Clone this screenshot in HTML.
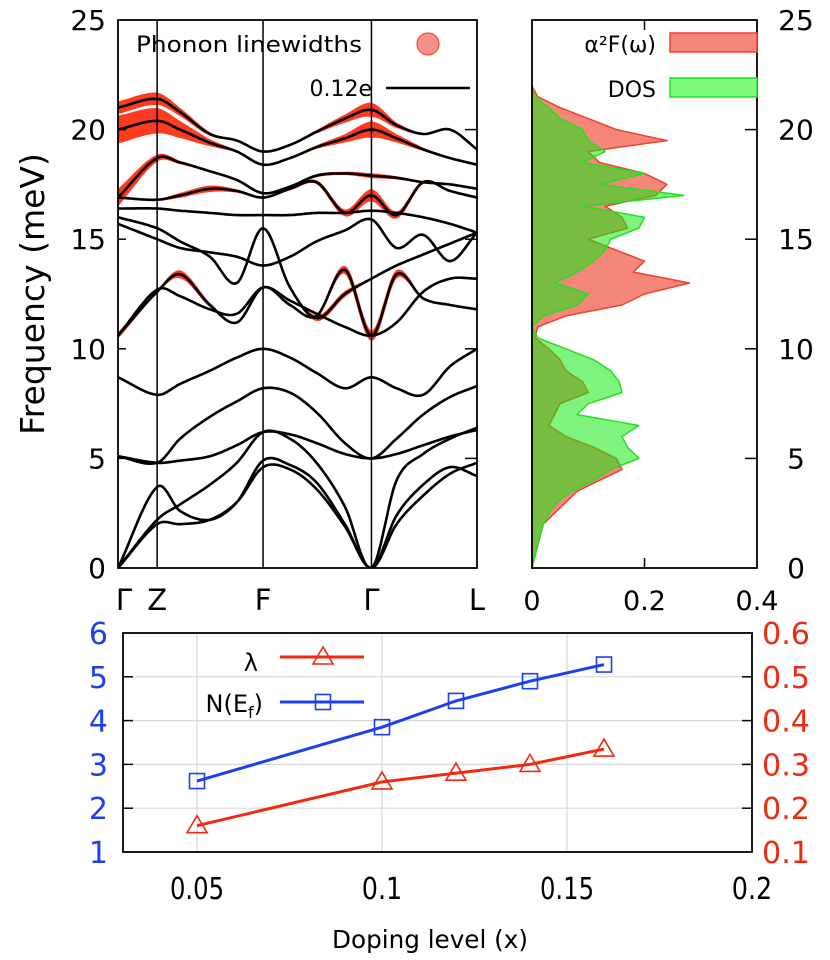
<!DOCTYPE html>
<html><head><meta charset="utf-8">
<style>
html,body{margin:0;padding:0;background:#fff;}
svg{display:block;font-family:"DejaVu Sans","Liberation Sans",sans-serif;}
</style></head>
<body>
<svg id="fig" width="830" height="960" viewBox="0 0 830 960" xmlns="http://www.w3.org/2000/svg">
  <g id="bandsG"></g>
  <g id="dosG"></g>
  <g id="dopG"></g>
</svg>
<script>
// ---------- data: phonon dispersion ----------
const kLabels = ["Γ","Z","F","Γ","L"];
const kLabelPos = [0, 0.109, 0.404, 0.706, 1];
const kpoints = [0,0.109,0.173,0.256,0.331,0.404,0.479,0.553,0.632,0.706,0.776,0.850,0.925,1];
const b1 = [0,2.0,2.0,2.2,3.0,4.6,4.5,3.6,1.9,0,2.0,3.3,4.3,4.8];
const b2 = [0,3.7,2.6,2.2,3.0,4.9,4.7,3.9,2.0,0,2.4,3.8,4.6,4.2];
const b3 = [0,2.2,2.9,3.8,4.8,6.2,5.9,4.8,2.8,0,4.0,5.2,5.9,6.4];
const b4 = [5.1,4.8,4.9,5.1,5.6,6.2,6.1,5.7,5.2,5.0,5.2,5.6,6.0,6.3];
const b5 = [5.1,4.8,5.9,6.9,7.6,8.2,8.0,7.1,5.7,5.0,5.9,7.0,7.8,8.3];
const b6 = [8.7,7.9,8.4,9.0,9.6,10.0,9.6,8.9,8.2,8.7,8.2,7.9,9.2,10.0];
const b7 = [10.6,12.7,12.4,11.8,11.6,12.8,12.2,11.6,11.0,10.6,11.2,12.6,13.2,13.2];
const b8 = [10.6,12.6,13.4,12.0,11.2,12.8,12.0,11.5,13.6,10.6,13.4,12.3,12.0,11.8];
const b9 = [15.7,15.0,14.6,14.4,14.2,13.8,14.2,14.9,15.4,15.9,14.6,15.2,14.0,15.3];
const b10 = [16.0,15.5,14.9,14.2,13.0,15.5,12.8,11.4,12.5,13.2,13.8,14.3,14.8,15.3];
const b11 = [16.4,16.4,16.3,16.2,16.1,16.1,16.1,16.2,16.2,16.3,16.2,16.0,15.7,15.3];
const b12 = [16.9,16.8,17.0,17.3,17.2,16.9,17.3,17.6,16.2,17.0,16.1,17.6,17.2,16.9];
const b13 = [16.9,18.7,18.5,18.1,17.7,17.1,17.4,17.9,18.0,17.9,17.8,17.6,17.5,17.3];
const b14 = [20.0,20.4,20.0,19.4,19.0,18.4,18.7,19.2,19.6,20.0,19.6,19.1,18.7,18.4];
const b15 = [21.0,21.4,20.8,19.8,19.5,19.0,19.3,19.9,20.5,20.9,20.2,19.8,20.0,19.1];
const zero = [0,0,0,0,0,0,0,0,0,0,0,0,0,0];
const w8  = [0.1,0,0.15,0.05,0,0,0,0,0.15,0.2,0.15,0,0,0];
const w10 = [0,0,0,0,0,0,0,0.1,0.1,0,0,0,0,0];
const w12 = [0,0,0.08,0.12,0.04,0,0.04,0.05,0.12,0.25,0.12,0.04,0,0];
const w13 = [0.35,0.12,0.04,0,0,0,0,0.04,0.04,0.08,0.04,0,0,0];
const w14 = [0.6,0.55,0.35,0.12,0,0,0,0.04,0.15,0.35,0.15,0.04,0,0];
const w15 = [0.25,0.25,0.15,0.04,0,0,0,0.04,0.15,0.3,0.08,0,0,0];
const freqTicks = [0,5,10,15,20,25];
// ---------- data: DOS ----------
const dosFreq = [0,0.5,1,1.5,2,2.5,3,3.5,4,4.5,5,5.5,6,6.5,7,7.5,8,8.5,9,9.5,10,10.5,11,11.5,12,12.5,13,13.5,14,14.5,15,15.5,16,16.5,17,17.5,18,18.5,19,19.5,20,20.5,21,21.5,22];
const dosVals = [0,0.005,0.01,0.015,0.02,0.03,0.045,0.07,0.11,0.14,0.19,0.17,0.16,0.19,0.08,0.1,0.16,0.155,0.14,0.11,0.06,0.01,0,0.02,0.08,0.1,0.04,0.08,0.11,0.13,0.14,0.19,0.2,0.09,0.27,0.12,0.2,0.09,0.13,0.1,0.09,0.05,0.03,0.005,0];
const a2fVals = [0,0.005,0.01,0.015,0.02,0.04,0.06,0.08,0.12,0.16,0.15,0.11,0.06,0.03,0.04,0.05,0.1,0.09,0.06,0.05,0.03,0.005,0.01,0.06,0.16,0.2,0.28,0.18,0.2,0.15,0.1,0.17,0.16,0.13,0.22,0.24,0.2,0.12,0.1,0.24,0.15,0.1,0.05,0.01,0];
const dosTicks = ["0","0.2","0.4"];
// ---------- data: doping ----------
const doping = [0.05,0.10,0.12,0.14,0.16];
const nEf = [2.62,3.85,4.45,4.9,5.28];
const lambda = [0.16,0.26,0.28,0.30,0.335];
const dopTicks = ["0.05","0.1","0.15","0.2"];
const nTicks = ["1","2","3","4","5","6"];
const lTicks = ["0.1","0.2","0.3","0.4","0.5","0.6"];

const NS="http://www.w3.org/2000/svg";
function mk(tag, attrs, parent, text){
  const e=document.createElementNS(NS,tag);
  for(const k in attrs) e.setAttribute(k,attrs[k]);
  if(text!==undefined) e.textContent=text;
  parent.appendChild(e); return e;
}
// ---------- band panel ----------
const BL=118,BR=477,BT=20,BB=568;
const kx = k => BL + k*(BR-BL);
const fy = f => BB - f*(BB-BT)/25;
const bandsG=document.getElementById('bandsG');
function spline(xs, ys, ws){
  const out=[];
  const n=xs.length;
  for(let i=0;i<n-1;i++){
    const x0=xs[Math.max(i-1,0)],x1=xs[i],x2=xs[i+1],x3=xs[Math.min(i+2,n-1)];
    const y0=ys[Math.max(i-1,0)],y1=ys[i],y2=ys[i+1],y3=ys[Math.min(i+2,n-1)];
    const m1=(y2-y0)/((x2-x0)||1)*(x2-x1), m2=(y3-y1)/((x3-x1)||1)*(x2-x1);
    for(let s=0;s<16;s++){
      const t=s/16,t2=t*t,t3=t2*t;
      const y=(2*t3-3*t2+1)*y1+(t3-2*t2+t)*m1+(-2*t3+3*t2)*y2+(t3-t2)*m2;
      out.push([x1+(x2-x1)*t, y, ws[i]+(ws[i+1]-ws[i])*t]);
    }
  }
  out.push([xs[n-1],ys[n-1],ws[n-1]]);
  return out;
}
const bands=[[b1,zero],[b2,zero],[b3,zero],[b4,zero],[b5,zero],[b6,zero],[b7,zero],[b8,w8],[b9,zero],[b10,w10],[b11,zero],[b12,w12],[b13,w13],[b14,w14],[b15,w15]];
const clip=mk('clipPath',{id:'bclip'},bandsG);
mk('rect',{x:BL,y:BT,width:BR-BL,height:BB-BT},clip);
const redLayer=mk('g',{'clip-path':'url(#bclip)'},bandsG);


const lineLayer=mk('g',{'clip-path':'url(#bclip)'},bandsG);


bands.forEach((bw,bi)=>{
  const pts=spline(kpoints,bw[0],bw[1]);
  let up=[],dn=[];
  pts.forEach(p=>{up.push(kx(p[0]).toFixed(1)+','+fy(p[1]+p[2]).toFixed(1));dn.unshift(kx(p[0]).toFixed(1)+','+fy(p[1]-p[2]).toFixed(1));});
  if(bw[1].some(v=>v>0)){
    const poly=mk('polygon',{points:up.concat(dn).join(' '),fill:'#ff3b1f',stroke:'#ff3b1f','stroke-width':1.5,'stroke-linejoin':'round'},redLayer);
    
    
  }
  const d='M'+pts.map(p=>kx(p[0]).toFixed(1)+','+fy(p[1]).toFixed(1)).join(' L');
  const path=mk('path',{d:d,fill:'none',stroke:'#000','stroke-width':2.6,'stroke-linejoin':'round'},lineLayer);
  
  
});
kLabelPos.forEach((k,i)=>{
  if(i>0&&i<kLabelPos.length-1){
    const l=mk('line',{x1:kx(k),x2:kx(k),y1:BT,y2:BB,stroke:'#000','stroke-width':1.5},bandsG);
    
    
  }
  const t=mk('text',{x:kx(k)+(i===0?6:0),y:610,'font-size':29,'text-anchor':'middle'},bandsG,kLabels[i]);
  
  
});
const bfr=mk('rect',{x:BL,y:BT,width:BR-BL,height:BB-BT,fill:'none',stroke:'#000','stroke-width':1.8},bandsG);


freqTicks.forEach(f=>{
  const t=mk('text',{x:106,y:fy(f)+10,'font-size':28,'text-anchor':'end'},bandsG,String(f));
  
  
  if(f>0&&f<25){
    mk('line',{x1:BL,x2:BL+8,y1:fy(f),y2:fy(f),stroke:'#000','stroke-width':1.5},bandsG);
    mk('line',{x1:BR-12,x2:BR,y1:fy(f),y2:fy(f),stroke:'#000','stroke-width':1.5},bandsG);
  }
});
const yt=mk('text',{x:0,y:0,'font-size':33,'text-anchor':'middle',transform:'translate(44,294) rotate(-90)'},bandsG,'Frequency (meV)');


const lg1=mk('text',{x:362,y:52,'font-size':22,'text-anchor':'end',textLength:226,lengthAdjust:'spacingAndGlyphs'},bandsG,'Phonon linewidths');


const lc=mk('circle',{cx:428,cy:44,r:11,fill:'#f99088',stroke:'#f0503c','stroke-width':1.2},bandsG);


const lg2=mk('text',{x:372,y:96,'font-size':22,'text-anchor':'end'},bandsG,'0.12e');


const ll=mk('line',{x1:386,x2:470,y1:88,y2:88,stroke:'#000','stroke-width':2.6},bandsG);



// ---------- DOS panel ----------
const DL=532,DR=757;
const dx = v => DL + v*(DR-DL)/0.4;
const dosG=document.getElementById('dosG');
function areaPath(vals){
  let d='M'+dx(0)+','+fy(dosFreq[0]);
  dosFreq.forEach((f,i)=>{d+=' L'+dx(vals[i]).toFixed(1)+','+fy(f).toFixed(1);});
  d+=' L'+dx(0)+','+fy(dosFreq[dosFreq.length-1])+' Z';
  return d;
}
const ra=mk('path',{d:areaPath(a2fVals),fill:'#f4867a',stroke:'#f2402a','stroke-width':1.5,'stroke-linejoin':'round'},dosG);


const ga=mk('path',{d:areaPath(dosVals),fill:'rgba(20,235,20,0.55)',stroke:'#22e022','stroke-width':1.5,'stroke-linejoin':'round'},dosG);


const dfr=mk('rect',{x:DL,y:BT,width:DR-DL,height:BB-BT,fill:'none',stroke:'#000','stroke-width':1.8},dosG);


dosTicks.forEach((s,i)=>{
  const x=dx(i*0.2);
  const t=mk('text',{x:x,y:610,'font-size':27,'text-anchor':'middle'},dosG,s);
  
  
  if(i===1){mk('line',{x1:x,x2:x,y1:BB,y2:BB-10,stroke:'#000','stroke-width':1.5},dosG);mk('line',{x1:x,x2:x,y1:BT,y2:BT+10,stroke:'#000','stroke-width':1.5},dosG);}
});
freqTicks.forEach(f=>{
  const t=mk('text',{x:796,y:fy(f)+10,'font-size':28,'text-anchor':'middle'},dosG,String(f));
  
  
  if(f>0&&f<25) mk('line',{x1:DR-12,x2:DR,y1:fy(f),y2:fy(f),stroke:'#000','stroke-width':1.5},dosG);
});
const la=mk('text',{x:656,y:52,'font-size':22,'text-anchor':'end'},dosG,'α²F(ω)');


const lr=mk('rect',{x:670,y:33,width:87,height:19,fill:'#f4867a',stroke:'#f2402a','stroke-width':1.5},dosG);


const ld=mk('text',{x:656,y:97,'font-size':22,'text-anchor':'end'},dosG,'DOS');


const lgr=mk('rect',{x:670,y:78,width:87,height:19,fill:'#7dfc7d',stroke:'#22e022','stroke-width':1.5},dosG);



// ---------- doping panel ----------
const PL=123,PR=752,PT=633,PB=852;
const px = v => PL + (v-0.03)*(PR-PL)/0.17;
const pyN = v => PB - (v-1)*(PB-PT)/5;
const pyL = v => PB - (v-0.1)*(PB-PT)/0.5;
const dopG=document.getElementById('dopG');
dopTicks.forEach(s=>{
  const v=parseFloat(s);
  if(v<0.2){const g=mk('line',{x1:px(v),x2:px(v),y1:PT,y2:PB,stroke:'#d8d8d8','stroke-width':1.2},dopG);
    }
  const t=mk('text',{x:px(v),y:899,'font-size':30,'text-anchor':'middle',textLength:s.length*13.5,lengthAdjust:'spacingAndGlyphs'},dopG,s);
  
  
});
nTicks.forEach((s,i)=>{
  const v=parseFloat(s), y=pyN(v);
  if(v>1&&v<6){
    const g=mk('line',{x1:PL,x2:PR,y1:y,y2:y,stroke:'#d8d8d8','stroke-width':1.2},dopG);
    
    mk('line',{x1:PL,x2:PL+10,y1:y,y2:y,stroke:'#000','stroke-width':1.5},dopG);
    mk('line',{x1:PR-10,x2:PR,y1:y,y2:y,stroke:'#000','stroke-width':1.5},dopG);
  }
  const t=mk('text',{x:108,y:y+11,'font-size':30,'text-anchor':'end',fill:'#1d3ff0'},dopG,s);
  
  
});
lTicks.forEach(s=>{
  const v=parseFloat(s);
  const t=mk('text',{x:762,y:pyL(v)+11,'font-size':30,'text-anchor':'start',fill:'#f02a10',textLength:48,lengthAdjust:'spacingAndGlyphs'},dopG,s);
  
  
});
const pfr=mk('rect',{x:PL,y:PT,width:PR-PL,height:PB-PT,fill:'none',stroke:'#000','stroke-width':1.8},dopG);


const nl=mk('polyline',{points:doping.map((d,i)=>px(d)+','+pyN(nEf[i])).join(' '),fill:'none',stroke:'#1d3ff0','stroke-width':3},dopG);


const rl=mk('polyline',{points:doping.map((d,i)=>px(d)+','+pyL(lambda[i])).join(' '),fill:'none',stroke:'#f02a10','stroke-width':3},dopG);


function square(x,y){return mk('rect',{x:x-7.5,y:y-7.5,width:15,height:15,fill:'none',stroke:'#1d3ff0','stroke-width':1.6},dopG);}
function tri(x,y){return mk('polygon',{points:(x)+','+(y-10)+' '+(x-10)+','+(y+7)+' '+(x+10)+','+(y+7),fill:'none',stroke:'#f02a10','stroke-width':1.6},dopG);}
doping.forEach((d,i)=>{
  const s=square(px(d),pyN(nEf[i]));
  
  
  const t=tri(px(d),pyL(lambda[i]));
  
  
});
const llam=mk('text',{x:258,y:671,'font-size':24,'text-anchor':'end'},dopG,'λ');


const lll=mk('line',{x1:280,x2:364,y1:657,y2:657,stroke:'#f02a10','stroke-width':3},dopG);


const llt=tri(323,657);


const lnt=mk('text',{x:263,y:712,'font-size':24,'text-anchor':'end'},dopG);


lnt.innerHTML='N(E<tspan font-size="16" dy="6">f</tspan><tspan dy="-6">)</tspan>';
const lnl=mk('line',{x1:280,x2:364,y1:702,y2:702,stroke:'#1d3ff0','stroke-width':3},dopG);


const lns=square(323,702);


const xt=mk('text',{x:430,y:948,'font-size':25,'text-anchor':'middle',textLength:196,lengthAdjust:'spacingAndGlyphs'},dopG,'Doping level (x)');


</script>
</body></html>
